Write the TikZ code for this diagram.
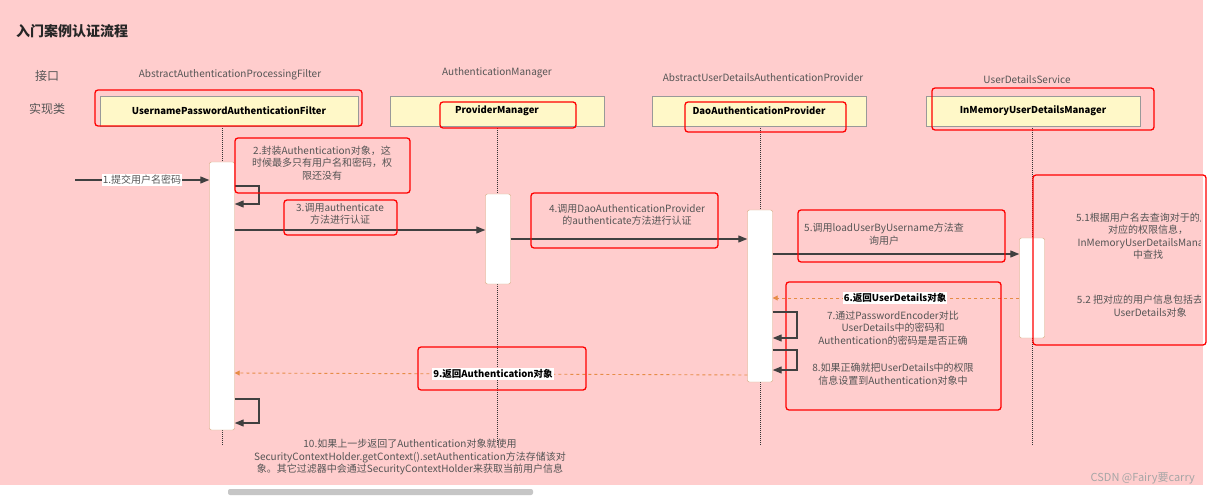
\documentclass[tikz,border=0pt]{standalone}
\usepackage{fontspec}
\setmainfont{Noto Sans CJK SC}
\usetikzlibrary{arrows.meta}
\definecolor{bg}{RGB}{255,205,205}
\definecolor{cls}{RGB}{255,248,200}
\definecolor{txt}{RGB}{85,85,85}
\definecolor{ora}{RGB}{230,140,70}
\begin{document}
\begin{tikzpicture}[x=1pt,y=-1pt,
 every node/.style={font=\fontsize{10}{12.5}\selectfont,text=txt,align=center,inner sep=1pt},
 cls/.style={draw=gray!80,fill=cls,minimum width=214pt,minimum height=30pt,font=\fontsize{9.5}{11}\selectfont\bfseries,text=black},
 hl/.style={draw=red,line width=1.3pt,rounded corners=3pt},
 life/.style={densely dotted,line width=1pt,black!80},
 act/.style={draw=brown!70,fill=white,rounded corners=2pt},
 msg/.style={draw=black!75,line width=1.2pt,-{Triangle[length=9pt,width=7pt]}},
 ret/.style={draw=ora,dashed,line width=0.9pt,-{Triangle[length=5pt,width=5pt]}},
 lbl/.style={fill=white,text=black,font=\fontsize{9.5}{11}\selectfont\bfseries}]
\useasboundingbox (0,0) rectangle (1210,497);
\fill[bg] (0,0) rectangle (1203,485);
\fill[white] (0,485) rectangle (1210,497);
\fill[gray!45,rounded corners=2pt] (228,489) rectangle (533,495);
\node[anchor=west,text=black!85,font=\fontsize{14}{16}\selectfont\bfseries] (title) at (15,31) {入门案例认证流程};
\node[font=\fontsize{12}{14}\selectfont] (ifc) at (47,76) {接口};
\node[font=\fontsize{12}{14}\selectfont] (impl) at (47,109) {实现类};
\node (i1) at (230,75) {AbstractAuthenticationProcessingFilter};
\node (i2) at (497,73) {AuthenticationManager};
\node (i3) at (763,78) {AbstractUserDetailsAuthenticationProvider};
\node (i4) at (1027,80) {UserDetailsService};
% lifelines
\foreach \x/\n in {222/a,497/b,760/c,1032/d}{\coordinate (t\n) at (\x,126); \coordinate (e\n) at (\x,445); \draw[life] (t\n) -- (e\n);}
\node[cls,minimum width=258pt] (c1) at (229,111) {UsernamePasswordAuthenticationFilter};
\node[cls] (c2) at (497,111) {ProviderManager};
\node[cls] (c3) at (759,111) {DaoAuthenticationProvider};
\node[cls] (c4) at (1033,111) {InMemoryUserDetailsManager};
\draw[hl] (95,90) rectangle (362,126);
\draw[hl] (440,102) rectangle (576,128);
\draw[hl] (685,102) rectangle (846,132);
\draw[hl] (932,88) rectangle (1154,130);
% activations
\node[act,minimum width=25pt,minimum height=268pt] (A) at (222,296) {};
\node[act,minimum width=25pt,minimum height=90pt] (B) at (498,239) {};
\node[act,minimum width=25pt,minimum height=172pt] (C) at (760,296) {};
\node[act,minimum width=25pt,minimum height=100pt] (D) at (1032,288) {};
% 1
\coordinate (s1) at (75,180);
\draw[msg] (s1) -- (A.west|-s1);
\node[fill=white] (l1) at (142,180) {1.提交用户名密码};
% 2
\draw[msg] (A.east|-0,186) -| (259,204) -- (A.east|-0,204);
\draw[hl] (235,138) rectangle (410,193);
\node (t2) at (322,163) {2.封装Authentication对象，这\\时候最多只有用户名和密码，权\\限还没有};
% 3
\draw[msg] (A.east|-0,230) -- (B.west|-0,230);
\draw[hl] (284,200) rectangle (397,235);
\node (t3) at (340,214) {3.调用authenticate\\方法进行认证};
% 4
\draw[msg] (B.east|-0,239) -- (C.west|-0,239);
\draw[hl] (531,193) rectangle (718,248);
\node (t4) at (627,215) {4.调用DaoAuthenticationProvider\\的authenticate方法进行认证};
% 5
\draw[msg] (C.east|-0,254) -- (D.west|-0,254);
\draw[hl] (798,210) rectangle (1005,262);
\node (t5) at (884,234) {5.调用loadUserByUsername方法查\\询用户};
% 5.1 / 5.2
\begin{scope}
\clip (1033,170) rectangle (1200,350);
\node (t51) at (1148,236) {5.1根据用户名去查询对于的用户\\对应的权限信息，\\InMemoryUserDetailsManager\\中查找};
\node (t52) at (1150,306) {5.2 把对应的用户信息包括去权限\\UserDetails对象};
\end{scope}
\draw[hl] (1033,175) rectangle (1206,345);
% 6
\draw[ret] (D.west|-0,298) -- (C.east|-0,298);
\node[lbl] (l6) at (895,298) {6.返回UserDetails对象};
\draw[hl] (786,282) rectangle (1001,410);
% 7,8
\draw[msg] (C.east|-0,312) -| (797,338) -- (C.east|-0,338);
\draw[msg] (C.east|-0,350) -| (797,370) -- (C.east|-0,370);
\node (t7) at (893,328) {7.通过PasswordEncoder对比\\UserDetails中的密码和\\Authentication的密码是是否正确};
\node (t8) at (893,374) {8.如果正确就把UserDetails中的权限\\信息设置到Authentication对象中};
% 9
\draw[ret] (C.west|-0,375) -- (A.east|-0,373);
\node[lbl] (l9) at (493,374) {9.返回Authentication对象};
\draw[hl] (418,347) rectangle (586,390);
% 10
\draw[msg] (A.east|-0,399) -| (259,423) -- (A.east|-0,423);
\node (t10) at (410,457) {10.如果上一步返回了Authentication对象就使用\\SecurityContextHolder.getContext().setAuthentication方法存储该对\\象。其它过滤器中会通过SecurityContextHolder来获取当前用户信息};
\node[anchor=east,text=gray!70,font=\fontsize{11}{13}\selectfont] (wm) at (1196,478) {CSDN @Fairy要carry};
\end{tikzpicture}
\end{document}
